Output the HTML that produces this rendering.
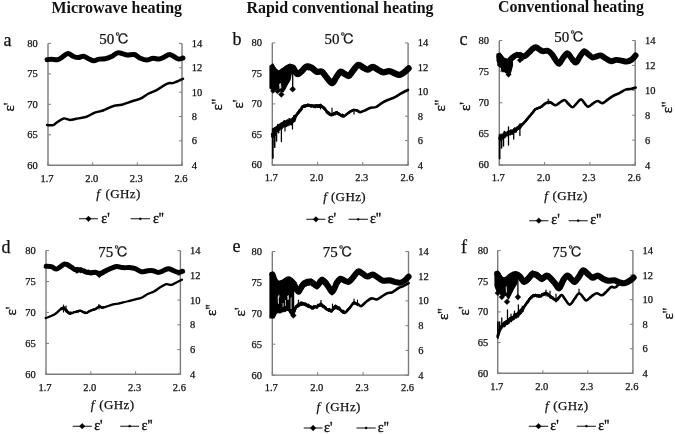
<!DOCTYPE html>
<html lang="en"><head><meta charset="utf-8"><title>Dielectric properties</title>
<style>html,body{margin:0;padding:0;background:#fff}body{width:675px;height:434px;overflow:hidden}svg{display:block}</style>
</head><body>
<svg width="675" height="434" viewBox="0 0 675 434" font-family='"Liberation Serif", "Noto Serif CJK SC", serif' fill="#111" stroke="#111" stroke-width="0.25">
<rect width="675" height="434" fill="#fff" stroke="none"/>
<text x="51.5" y="13.1" font-size="16" font-weight="bold" stroke="none" textLength="130.6" lengthAdjust="spacingAndGlyphs">Microwave heating</text>
<text x="246.4" y="13.1" font-size="16" font-weight="bold" stroke="none" textLength="187.2" lengthAdjust="spacingAndGlyphs">Rapid conventional heating</text>
<text x="497.9" y="11.7" font-size="16" font-weight="bold" stroke="none" textLength="146.0" lengthAdjust="spacingAndGlyphs">Conventional heating</text>
<g>
<path d="M48.0 43.4V165.3H182.0V43.4" fill="none" stroke="#7c7c7c" stroke-width="1.4"/>
<path d="M48.0 43.4h3M48.0 73.9h3M48.0 104.3h3M48.0 134.8h3M48.0 165.3h3M182.0 43.4h-3M182.0 67.8h-3M182.0 92.2h-3M182.0 116.5h-3M182.0 140.9h-3M182.0 165.3h-3M48.0 165.3v-3M92.7 165.3v-3M137.3 165.3v-3M182.0 165.3v-3" fill="none" stroke="#7c7c7c" stroke-width="1"/>
<text x="37.7" y="46.8" font-size="10.5" text-anchor="end">80</text>
<text x="37.7" y="77.3" font-size="10.5" text-anchor="end">75</text>
<text x="37.7" y="107.8" font-size="10.5" text-anchor="end">70</text>
<text x="37.7" y="138.2" font-size="10.5" text-anchor="end">65</text>
<text x="37.7" y="168.7" font-size="10.5" text-anchor="end">60</text>
<text x="191.7" y="46.9" font-size="10.5">14</text>
<text x="191.7" y="71.3" font-size="10.5">12</text>
<text x="191.7" y="95.7" font-size="10.5">10</text>
<text x="191.7" y="120.0" font-size="10.5">8</text>
<text x="191.7" y="144.4" font-size="10.5">6</text>
<text x="191.7" y="168.8" font-size="10.5">4</text>
<text x="47.0" y="181.6" font-size="10.5" text-anchor="middle">1.7</text>
<text x="91.7" y="181.6" font-size="10.5" text-anchor="middle">2.0</text>
<text x="136.3" y="181.6" font-size="10.5" text-anchor="middle">2.3</text>
<text x="181.0" y="181.6" font-size="10.5" text-anchor="middle">2.6</text>
<text x="3.6" y="46.4" font-size="18">a</text>
<text x="99.2" y="43.5" font-size="15">50<tspan dx="1.0" font-size="14" font-family="IPAGothic, 'Noto Serif CJK SC', serif">℃</tspan></text>
<text x="96.2" y="197.8" font-size="13" font-style="italic">f</text>
<text x="140.7" y="197.8" font-size="13" letter-spacing="0.4" text-anchor="end">(GHz)</text>
<path d="M79.0 218.8H97.9M130.6 218.8H150.0" stroke="#111" stroke-width="1.1" fill="none"/>
<path d="M88.5 215.9l2.9 2.9l-2.9 2.9l-2.9-2.9z" fill="#000"/>
<circle cx="140.3" cy="218.8" r="1.15" fill="#000"/>
<text x="101.3" y="222.5" font-size="14" stroke-width="0.4">ε'</text>
<text x="152.9" y="222.5" font-size="14" stroke-width="0.4">ε''</text>
<text transform="translate(14.4 111.6) rotate(-90)" font-size="15" stroke-width="0.4">ε'</text>
<text transform="translate(221.9 110.5) rotate(-90)" font-size="15" stroke-width="0.4">ε''</text>
<path d="M47.1 125.1C48.1 125.1 51.6 125.6 53.3 125.1C55.0 124.5 55.7 123.1 57.4 122.0C59.2 120.8 61.6 118.8 63.7 118.4C65.7 118.1 67.8 119.8 69.9 119.9C72.0 119.9 73.4 119.4 76.1 118.8C78.9 118.3 83.4 117.8 86.5 116.8C89.6 115.7 92.0 113.7 94.8 112.6C97.6 111.6 100.0 111.6 103.1 110.5C106.2 109.4 110.4 106.9 113.5 106.0C116.6 105.0 118.7 105.5 121.8 104.7C124.9 103.9 129.0 102.2 132.1 101.2C135.2 100.2 137.7 100.0 140.4 98.7C143.2 97.4 146.0 95.0 148.7 93.5C151.5 92.0 153.9 91.5 157.0 89.8C160.1 88.1 164.6 84.7 167.4 83.6C170.2 82.4 171.0 83.7 173.6 82.9C176.2 82.2 181.4 79.5 183.0 78.8" fill="none" stroke="#000" stroke-width="2.5" stroke-linejoin="round" stroke-linecap="round"/>
<path d="M47.1 59.7C47.8 59.6 49.5 59.3 51.2 59.3C53.0 59.3 55.7 60.0 57.4 59.7C59.2 59.4 59.9 58.7 61.6 57.6C63.3 56.6 65.9 53.7 67.8 53.5C69.7 53.2 71.3 55.5 73.0 56.2C74.7 56.9 76.5 57.6 78.2 57.6C79.9 57.6 81.7 56.0 83.4 56.2C85.1 56.4 86.8 57.9 88.6 58.7C90.3 59.4 92.0 60.7 93.8 60.7C95.5 60.8 97.0 59.4 98.9 59.1C100.8 58.7 103.1 59.1 105.2 58.7C107.2 58.3 109.3 57.6 111.4 56.6C113.5 55.6 115.5 53.3 117.6 52.9C119.7 52.4 122.1 53.7 123.8 54.1C125.6 54.5 126.3 55.1 128.0 55.1C129.7 55.2 132.1 54.0 134.2 54.5C136.3 55.0 138.4 57.3 140.4 58.3C142.5 59.2 144.6 60.1 146.7 60.1C148.7 60.1 150.8 58.4 152.9 58.3C155.0 58.1 157.2 59.3 159.1 59.1C161.0 58.9 162.6 57.8 164.3 57.0C166.0 56.3 167.8 54.5 169.5 54.5C171.2 54.5 173.1 56.3 174.7 57.0C176.2 57.8 177.4 58.9 178.8 59.1C180.2 59.3 182.3 58.2 183.0 58.0" fill="none" stroke="#000" stroke-width="5.0" stroke-linejoin="round" stroke-linecap="round"/>
</g>
<g>
<path d="M272.3 42.9V165.0H408.1V42.9" fill="none" stroke="#7c7c7c" stroke-width="1.4"/>
<path d="M272.3 42.9h3M272.3 73.4h3M272.3 103.9h3M272.3 134.5h3M272.3 165.0h3M408.1 42.9h-3M408.1 67.3h-3M408.1 91.7h-3M408.1 116.2h-3M408.1 140.6h-3M408.1 165.0h-3M272.3 165.0v-3M317.6 165.0v-3M362.8 165.0v-3M408.1 165.0v-3" fill="none" stroke="#7c7c7c" stroke-width="1"/>
<text x="262.0" y="46.3" font-size="10.5" text-anchor="end">80</text>
<text x="262.0" y="76.8" font-size="10.5" text-anchor="end">75</text>
<text x="262.0" y="107.3" font-size="10.5" text-anchor="end">70</text>
<text x="262.0" y="137.9" font-size="10.5" text-anchor="end">65</text>
<text x="262.0" y="168.4" font-size="10.5" text-anchor="end">60</text>
<text x="417.8" y="46.4" font-size="10.5">14</text>
<text x="417.8" y="70.8" font-size="10.5">12</text>
<text x="417.8" y="95.2" font-size="10.5">10</text>
<text x="417.8" y="119.7" font-size="10.5">8</text>
<text x="417.8" y="144.1" font-size="10.5">6</text>
<text x="417.8" y="168.5" font-size="10.5">4</text>
<text x="271.3" y="181.3" font-size="10.5" text-anchor="middle">1.7</text>
<text x="316.6" y="181.3" font-size="10.5" text-anchor="middle">2.0</text>
<text x="361.8" y="181.3" font-size="10.5" text-anchor="middle">2.3</text>
<text x="407.1" y="181.3" font-size="10.5" text-anchor="middle">2.6</text>
<text x="232.6" y="45.2" font-size="18">b</text>
<text x="324.4" y="43.7" font-size="15">50<tspan dx="1.0" font-size="14" font-family="IPAGothic, 'Noto Serif CJK SC', serif">℃</tspan></text>
<text x="323.2" y="200.5" font-size="13" font-style="italic">f</text>
<text x="366.1" y="200.5" font-size="13" letter-spacing="0.4" text-anchor="end">(GHz)</text>
<path d="M306.3 219.3H325.4M348.5 219.3H367.9" stroke="#111" stroke-width="1.1" fill="none"/>
<path d="M315.9 216.4l2.9 2.9l-2.9 2.9l-2.9-2.9z" fill="#000"/>
<circle cx="358.2" cy="219.3" r="1.15" fill="#000"/>
<text x="327.7" y="223.0" font-size="14" stroke-width="0.4">ε'</text>
<text x="370.1" y="223.0" font-size="14" stroke-width="0.4">ε''</text>
<text transform="translate(242.7 108.6) rotate(-90)" font-size="15" stroke-width="0.4">ε'</text>
<text transform="translate(445.4 111.5) rotate(-90)" font-size="15" stroke-width="0.4">ε''</text>
<path d="M272.0 133.0L272.6 137.3L273.2 132.1L273.8 128.7L274.4 132.4L275.0 134.5L275.6 133.6L276.2 127.0L276.8 130.7L277.4 126.9L278.0 124.6L278.6 133.4" fill="none" stroke="#000" stroke-width="1.8" stroke-linejoin="round"/>
<path d="M272.3 135.7L273.1 132.7L273.9 135.0L274.6 134.6L275.4 128.5L276.2 130.6L277.0 129.1L277.8 126.4L278.5 130.3" fill="none" stroke="#000" stroke-width="2.4" stroke-linejoin="round"/>
<path d="M272.1 137.5L272.7 133.8L273.2 136.4L273.8 133.5L274.3 131.9L274.9 133.0L275.4 134.6L275.9 129.6L276.5 131.2L277.0 127.3L277.6 130.2L278.1 130.8L278.6 127.8" fill="none" stroke="#000" stroke-width="2.1" stroke-linejoin="round"/>
<path d="M279.0 125.4L279.6 130.0L280.2 128.5L280.8 128.2L281.4 122.9L282.0 128.3L282.6 124.6L283.2 122.2L283.8 122.8L284.4 121.1L285.0 125.8L285.6 126.5L286.2 126.0L286.8 124.4L287.4 123.0L288.0 121.7L288.6 123.5L289.2 118.8L289.8 119.0L290.4 122.0L291.0 120.4L291.6 124.7L292.2 122.4L292.8 117.8L293.4 120.8L294.0 115.9L294.6 121.2L295.2 118.4L295.8 118.0" fill="none" stroke="#000" stroke-width="1.8" stroke-linejoin="round"/>
<path d="M279.3 127.1L280.1 124.6L280.9 127.0L281.6 125.9L282.4 124.0L283.2 123.0L284.0 125.8L284.8 123.0L285.5 124.4L286.3 125.0L287.1 123.7L287.9 120.8L288.7 124.0L289.4 124.3L290.2 123.5L291.0 122.4L291.8 119.4L292.6 119.1L293.3 121.5L294.1 117.0L294.9 119.3L295.7 114.9" fill="none" stroke="#000" stroke-width="2.4" stroke-linejoin="round"/>
<path d="M279.1 127.6L279.7 125.6L280.2 127.6L280.8 126.9L281.3 124.1L281.9 124.9L282.4 124.6L282.9 125.3L283.5 126.7L284.0 123.7L284.6 121.1L285.1 126.1L285.6 124.7L286.2 121.3L286.7 123.9L287.3 120.2L287.8 125.5L288.3 121.0L288.9 123.7L289.4 121.3L290.0 122.5L290.5 122.0L291.0 124.3L291.6 121.2L292.1 123.0L292.7 121.0L293.2 119.5L293.7 121.3L294.3 116.4L294.8 115.8L295.4 115.7L295.9 116.0" fill="none" stroke="#000" stroke-width="2.1" stroke-linejoin="round"/>
<path d="M296.0 115.9L296.8 113.7L297.6 112.0L298.4 112.4L299.2 110.1L300.0 110.6L300.8 110.9L301.6 109.4L302.4 106.1L303.2 106.7L304.0 105.6L304.8 106.9L305.6 106.3L306.4 105.5L307.2 105.0L308.0 104.5L308.8 105.9L309.6 104.6L310.4 106.1L311.2 107.1L312.0 105.3L312.8 106.4L313.6 106.7L314.4 106.3L315.2 107.7L316.0 104.6L316.8 105.9L317.6 104.9L318.4 107.0L319.2 106.6L320.0 106.8L320.8 106.5L321.6 105.2L322.4 105.8L323.2 107.3L324.0 109.4L324.8 107.8L325.6 109.0L326.4 112.5L327.2 111.8L328.0 113.5L328.8 114.1L329.6 115.1L330.4 115.2L331.2 115.9L332.0 114.0L332.8 115.7L333.6 115.0L334.4 113.2L335.2 112.3L336.0 111.8L336.8 111.9L337.6 112.8L338.4 112.7L339.2 114.0L340.0 114.2L340.8 115.6L341.6 116.0L342.4 114.5L343.2 114.8L344.0 116.5L344.8 116.1" fill="none" stroke="#000" stroke-width="1.4" stroke-linejoin="round"/>
<path d="M296.3 116.1L297.3 114.2L298.4 113.3L299.4 110.3L300.5 110.6L301.5 109.5L302.5 106.1L303.6 105.6L304.6 107.0L305.7 105.2L306.7 105.9L307.7 104.6L308.8 104.8L309.8 105.0L310.9 106.5L311.9 105.1L312.9 105.9L314.0 107.1L315.0 106.0L316.1 105.2L317.1 107.1L318.1 106.0L319.2 105.0L320.2 105.0L321.3 105.5L322.3 107.2L323.3 106.8L324.4 108.3L325.4 109.9L326.5 111.4L327.5 113.1L328.5 112.6L329.6 113.6L330.6 114.1L331.7 113.9L332.7 114.2L333.7 113.6L334.8 114.2L335.8 113.1L336.9 112.4L337.9 114.3L338.9 114.6L340.0 114.7L341.0 116.0L342.1 116.2L343.1 115.7L344.1 116.9" fill="none" stroke="#000" stroke-width="2.0" stroke-linejoin="round"/>
<path d="M296.1 114.5L296.9 113.6L297.6 113.9L298.3 113.3L299.0 112.2L299.8 111.8L300.5 110.3L301.2 108.8L301.9 109.2L302.6 107.7L303.4 106.7L304.1 105.9L304.8 105.3L305.5 106.8L306.2 106.1L307.0 106.3L307.7 104.4L308.4 105.8L309.1 106.0L309.8 105.1L310.6 105.6L311.3 106.7L312.0 106.1L312.7 106.7L313.4 105.3L314.2 106.9L314.9 105.0L315.6 107.0L316.3 105.4L317.0 105.6L317.8 105.2L318.5 106.8L319.2 107.2L319.9 106.7L320.6 105.3L321.4 106.4L322.1 106.3L322.8 107.7L323.5 107.1L324.2 108.7L325.0 108.4L325.7 110.7L326.4 111.2L327.1 112.6L327.8 112.7L328.6 112.0L329.3 113.1L330.0 113.4L330.7 115.1L331.4 114.8L332.2 113.9L332.9 113.7L333.6 113.6L334.3 112.6L335.0 114.6L335.8 113.8L336.5 113.8L337.2 112.1L337.9 113.0L338.6 112.9L339.4 114.6L340.1 114.5L340.8 115.0L341.5 115.5L342.2 114.4L343.0 115.1L343.7 115.2L344.4 115.4" fill="none" stroke="#000" stroke-width="1.7" stroke-linejoin="round"/>
<path d="M345.0 115.9L346.0 115.2L347.0 113.0L348.0 112.5L349.0 112.2L350.0 112.0L351.0 110.8L352.0 111.3L353.0 110.7L354.0 110.1L355.0 110.3L356.0 110.7L357.0 109.9L358.0 110.4L359.0 110.8L360.0 112.5L361.0 112.2L362.0 111.0" fill="none" stroke="#000" stroke-width="1.0" stroke-linejoin="round"/>
<path d="M345.3 115.7L346.6 113.7L347.9 113.5L349.2 112.8L350.5 111.1L351.8 111.1L353.1 109.6L354.4 109.7L355.7 110.0L357.0 111.0L358.3 111.0L359.6 111.7L360.9 111.9" fill="none" stroke="#000" stroke-width="1.6" stroke-linejoin="round"/>
<path d="M345.1 115.3L346.0 115.0L346.9 114.2L347.8 112.7L348.7 113.0L349.6 111.5L350.5 111.3L351.4 111.1L352.3 110.7L353.2 110.4L354.1 109.8L355.0 109.8L355.9 110.3L356.8 109.9L357.7 111.4L358.6 111.8L359.5 111.4L360.4 112.5L361.3 111.2" fill="none" stroke="#000" stroke-width="1.3" stroke-linejoin="round"/>
<path d="M272.8 129.0V158.0" stroke="#000" stroke-width="1.8" fill="none" stroke-linecap="round"/>
<path d="M274.6 128.0V147.0" stroke="#000" stroke-width="1.8" fill="none" stroke-linecap="round"/>
<path d="M276.5 127.0V141.0" stroke="#000" stroke-width="1.5" fill="none" stroke-linecap="round"/>
<path d="M281.4 126.0V141.5" stroke="#000" stroke-width="1.3" fill="none" stroke-linecap="round"/>
<path d="M285.0 121.0V131.0" stroke="#000" stroke-width="1.2" fill="none" stroke-linecap="round"/>
<path d="M292.5 118.0V129.0" stroke="#000" stroke-width="1.2" fill="none" stroke-linecap="round"/>
<path d="M320.5 104.0V109.0" stroke="#000" stroke-width="1.2" fill="none" stroke-linecap="round"/>
<path d="M332.0 108.0V113.0" stroke="#000" stroke-width="1.2" fill="none" stroke-linecap="round"/>
<path d="M354.0 109.0V114.0" stroke="#000" stroke-width="1.2" fill="none" stroke-linecap="round"/>
<path d="M295.0 67.9l3.0 3.0l-3.0 3.0l-3.0 -3.0zM296.1 69.1l3.0 3.0l-3.0 3.0l-3.0 -3.0zM297.2 69.9l3.0 3.0l-3.0 3.0l-3.0 -3.0zM298.3 70.1l3.0 3.0l-3.0 3.0l-3.0 -3.0zM299.4 69.6l3.0 3.0l-3.0 3.0l-3.0 -3.0zM300.5 69.9l3.0 3.0l-3.0 3.0l-3.0 -3.0zM301.6 67.8l3.0 3.0l-3.0 3.0l-3.0 -3.0zM302.7 67.0l3.0 3.0l-3.0 3.0l-3.0 -3.0zM303.8 65.4l3.0 3.0l-3.0 3.0l-3.0 -3.0zM304.9 65.6l3.0 3.0l-3.0 3.0l-3.0 -3.0zM306.0 64.0l3.0 3.0l-3.0 3.0l-3.0 -3.0zM307.1 63.3l3.0 3.0l-3.0 3.0l-3.0 -3.0zM308.2 64.7l3.0 3.0l-3.0 3.0l-3.0 -3.0zM309.3 64.4l3.0 3.0l-3.0 3.0l-3.0 -3.0zM310.4 65.0l3.0 3.0l-3.0 3.0l-3.0 -3.0zM311.5 64.7l3.0 3.0l-3.0 3.0l-3.0 -3.0z" fill="#000" stroke="none"/>
<path d="M270.0 66.0 L273.0 64.0 L276.0 69.5 L280.0 71.5 L286.0 66.0 L290.0 64.0 L292.0 70.0 L290.0 80.0 L287.0 85.0 L285.0 89.0 L283.0 92.0 L280.0 91.0 L277.0 89.0 L274.0 91.0 L270.0 88.0 z" fill="#000" stroke="#000" stroke-width="1.2" stroke-linejoin="round"/>
<path d="M279.0 84.0 L281.0 83.0 L281.5 88.0 L279.5 89.0 z" fill="#fff" stroke="none" opacity="0.8"/>
<path d="M292.7 70.0V89.0" stroke="#000" stroke-width="1.3" fill="none"/>
<path d="M281.3 91.4l3.0 3.0l-3.0 3.0l-3.0 -3.0z" fill="#000"/>
<path d="M292.7 86.1l3.1 3.1l-3.1 3.1l-3.1 -3.1z" fill="#000"/>
<path d="M273.0 88.4l2.6 2.6l-2.6 2.6l-2.6 -2.6z" fill="#000"/>
<path d="M277.5 88.9l2.6 2.6l-2.6 2.6l-2.6 -2.6z" fill="#000"/>
<path d="M272.1 134.4C272.8 133.9 274.7 132.9 276.3 131.3C277.9 129.8 279.8 126.5 281.5 125.1C283.2 123.7 284.8 123.7 286.7 123.0C288.6 122.3 291.3 122.1 292.9 120.9C294.4 119.7 295.0 117.2 296.0 115.7C297.0 114.2 297.9 113.2 299.1 111.6C300.3 110.0 301.6 107.2 303.3 106.2C305.0 105.2 307.6 105.4 309.5 105.4C311.4 105.4 313.0 106.1 314.7 106.2C316.4 106.3 318.3 105.6 319.9 105.9C321.4 106.2 322.6 106.8 324.0 108.0C325.4 109.2 326.9 112.0 328.1 113.1C329.3 114.2 329.9 114.8 331.3 114.7C332.7 114.7 335.0 112.9 336.4 112.8C337.8 112.7 338.3 113.7 339.5 114.3C340.7 114.9 342.3 116.6 343.7 116.4C345.0 116.2 346.2 114.3 347.8 113.3C349.4 112.2 351.4 110.6 353.0 110.2C354.5 109.7 355.9 110.2 357.1 110.6C358.3 110.9 358.9 112.3 360.2 112.2C361.6 112.2 363.7 110.9 365.4 110.2C367.2 109.4 368.9 108.2 370.6 107.7C372.4 107.2 373.9 107.8 375.8 107.1C377.7 106.3 380.0 104.1 382.0 102.9C384.1 101.7 386.2 100.7 388.3 99.8C390.3 98.9 392.4 98.3 394.5 97.3C396.6 96.3 398.5 94.8 400.7 93.6C403.0 92.3 406.8 90.5 408.0 89.8" fill="none" stroke="#000" stroke-width="2.6" stroke-linejoin="round" stroke-linecap="round"/>
<path d="M273.1 69.7C274.0 70.5 276.7 74.2 278.3 74.5C279.9 74.8 280.7 72.7 282.4 71.6C284.2 70.4 286.9 68.3 288.7 67.6C290.4 67.0 291.4 66.6 292.8 67.6C294.2 68.7 295.6 73.2 297.0 73.9C298.4 74.6 299.6 73.0 301.1 71.8C302.7 70.6 304.6 67.3 306.3 66.6C308.0 65.9 309.8 66.8 311.5 67.6C313.2 68.5 315.0 71.1 316.7 71.8C318.4 72.5 320.1 70.7 321.9 71.8C323.6 72.8 325.3 76.1 327.1 78.0C328.8 79.9 330.7 83.4 332.2 83.2C333.8 83.0 335.0 78.9 336.4 77.0C337.8 75.1 339.2 72.3 340.5 71.8C341.9 71.3 343.3 73.2 344.7 73.9C346.1 74.6 347.5 76.5 348.8 75.9C350.2 75.4 351.4 72.6 353.0 70.7C354.5 68.9 356.4 65.5 358.2 64.9C359.9 64.4 361.8 66.8 363.4 67.6C364.9 68.4 366.0 69.8 367.5 69.7C369.1 69.6 371.0 67.0 372.7 67.0C374.4 67.0 376.2 68.8 377.9 69.7C379.6 70.6 381.2 72.2 383.1 72.4C385.0 72.6 387.4 71.0 389.3 71.2C391.2 71.3 392.8 72.6 394.5 73.2C396.2 73.9 397.9 75.1 399.7 74.9C401.4 74.7 403.4 72.9 404.9 71.8C406.3 70.7 408.0 68.8 408.6 68.3" fill="none" stroke="#000" stroke-width="6.3" stroke-linejoin="round" stroke-linecap="round"/>
</g>
<g>
<path d="M499.3 40.5V165.0H635.2V40.5" fill="none" stroke="#7c7c7c" stroke-width="1.4"/>
<path d="M499.3 40.5h3M499.3 71.6h3M499.3 102.8h3M499.3 133.9h3M499.3 165.0h3M635.2 40.5h-3M635.2 65.4h-3M635.2 90.3h-3M635.2 115.2h-3M635.2 140.1h-3M635.2 165.0h-3M499.3 165.0v-3M544.6 165.0v-3M589.9 165.0v-3M635.2 165.0v-3" fill="none" stroke="#7c7c7c" stroke-width="1"/>
<text x="489.0" y="43.9" font-size="10.5" text-anchor="end">80</text>
<text x="489.0" y="75.0" font-size="10.5" text-anchor="end">75</text>
<text x="489.0" y="106.2" font-size="10.5" text-anchor="end">70</text>
<text x="489.0" y="137.3" font-size="10.5" text-anchor="end">65</text>
<text x="489.0" y="168.4" font-size="10.5" text-anchor="end">60</text>
<text x="644.9" y="44.0" font-size="10.5">14</text>
<text x="644.9" y="68.9" font-size="10.5">12</text>
<text x="644.9" y="93.8" font-size="10.5">10</text>
<text x="644.9" y="118.7" font-size="10.5">8</text>
<text x="644.9" y="143.6" font-size="10.5">6</text>
<text x="644.9" y="168.5" font-size="10.5">4</text>
<text x="498.3" y="181.3" font-size="10.5" text-anchor="middle">1.7</text>
<text x="543.6" y="181.3" font-size="10.5" text-anchor="middle">2.0</text>
<text x="588.9" y="181.3" font-size="10.5" text-anchor="middle">2.3</text>
<text x="634.2" y="181.3" font-size="10.5" text-anchor="middle">2.6</text>
<text x="459.6" y="45.2" font-size="18">c</text>
<text x="554.2" y="42.1" font-size="15">50<tspan dx="1.0" font-size="14" font-family="IPAGothic, 'Noto Serif CJK SC', serif">℃</tspan></text>
<text x="544.2" y="199.7" font-size="13" font-style="italic">f</text>
<text x="587.7" y="199.7" font-size="13" letter-spacing="0.4" text-anchor="end">(GHz)</text>
<path d="M529.2 220.7H548.4M568.6 220.7H587.7" stroke="#111" stroke-width="1.1" fill="none"/>
<path d="M538.8 217.8l2.9 2.9l-2.9 2.9l-2.9-2.9z" fill="#000"/>
<circle cx="578.2" cy="220.7" r="1.15" fill="#000"/>
<text x="551.3" y="224.4" font-size="14" stroke-width="0.4">ε'</text>
<text x="590.3" y="224.4" font-size="14" stroke-width="0.4">ε''</text>
<text transform="translate(470.4 111.0) rotate(-90)" font-size="15" stroke-width="0.4">ε'</text>
<text transform="translate(672.3 113.2) rotate(-90)" font-size="15" stroke-width="0.4">ε''</text>
<path d="M499.5 137.7L500.1 135.8L500.7 135.2L501.3 135.3L501.9 138.5L502.5 134.4L503.1 134.9L503.7 136.7L504.3 135.2L504.9 137.7L505.5 134.1" fill="none" stroke="#000" stroke-width="1.7" stroke-linejoin="round"/>
<path d="M499.8 137.7L500.6 138.2L501.4 135.6L502.1 138.5L502.9 135.3L503.7 134.8L504.5 135.7L505.3 132.5" fill="none" stroke="#000" stroke-width="2.3" stroke-linejoin="round"/>
<path d="M499.6 139.2L500.2 140.0L500.7 136.5L501.3 139.8L501.8 136.9L502.4 138.0L502.9 135.7L503.4 135.0L504.0 133.7L504.5 131.8L505.1 132.6L505.6 137.1" fill="none" stroke="#000" stroke-width="2.0" stroke-linejoin="round"/>
<path d="M506.0 134.2L506.6 133.6L507.2 135.7L507.8 133.9L508.4 135.7L509.0 132.2L509.6 131.3L510.2 134.8L510.8 130.6L511.4 133.7L512.0 132.4L512.6 134.1L513.2 133.6L513.8 131.8L514.4 128.3L515.0 127.9L515.6 130.0L516.2 131.5L516.8 127.3L517.4 128.8L518.0 126.6L518.6 127.2L519.2 125.0L519.8 126.1L520.4 126.5L521.0 124.2L521.6 126.7" fill="none" stroke="#000" stroke-width="1.6" stroke-linejoin="round"/>
<path d="M506.3 132.3L507.1 132.6L507.9 132.5L508.6 132.7L509.4 133.8L510.2 132.0L511.0 133.0L511.8 133.6L512.5 130.3L513.3 132.6L514.1 131.2L514.9 131.4L515.7 130.5L516.4 129.3L517.2 127.8L518.0 127.5L518.8 126.8L519.6 126.0L520.3 125.1L521.1 124.6L521.9 125.1" fill="none" stroke="#000" stroke-width="2.2" stroke-linejoin="round"/>
<path d="M506.1 135.1L506.7 135.1L507.2 135.1L507.8 131.7L508.3 134.6L508.9 131.6L509.4 131.0L509.9 131.7L510.5 132.9L511.0 130.3L511.6 130.9L512.1 131.4L512.6 133.0L513.2 130.9L513.7 130.7L514.2 130.2L514.8 128.7L515.3 131.9L515.9 131.8L516.4 130.7L516.9 129.0L517.5 128.9L518.0 127.9L518.6 128.9L519.1 128.3L519.6 126.3L520.2 128.2L520.7 127.0L521.3 124.3L521.8 126.3" fill="none" stroke="#000" stroke-width="1.9" stroke-linejoin="round"/>
<path d="M522.0 125.1L522.9 123.4L523.8 122.6L524.7 122.5L525.6 120.1L526.5 119.7L527.4 119.7L528.3 117.3L529.2 116.7L530.1 116.5L531.0 115.3L531.9 114.1L532.8 112.5L533.7 112.2L534.6 109.8L535.5 110.0L536.4 108.7L537.3 108.9L538.2 108.4L539.1 107.4L540.0 107.8L540.9 107.2L541.8 107.2L542.7 105.9L543.6 104.7L544.5 103.9L545.4 104.2L546.3 102.6L547.2 103.1L548.1 102.9L549.0 103.2L549.9 101.4L550.8 102.9L551.7 102.5" fill="none" stroke="#000" stroke-width="1.1" stroke-linejoin="round"/>
<path d="M522.3 124.7L523.5 123.5L524.6 122.4L525.8 121.2L527.0 118.9L528.1 118.4L529.3 116.3L530.5 115.0L531.7 113.2L532.8 112.4L534.0 110.3L535.2 109.3L536.3 109.2L537.5 108.8L538.7 107.5L539.8 107.9L541.0 106.8L542.2 105.5L543.4 105.4L544.5 104.4L545.7 103.1L546.9 102.9L548.0 102.7L549.2 102.4L550.4 102.7L551.5 103.4" fill="none" stroke="#000" stroke-width="1.7" stroke-linejoin="round"/>
<path d="M522.1 124.1L523.0 123.0L523.8 122.3L524.6 121.8L525.4 121.3L526.2 121.0L527.0 119.1L527.8 118.1L528.6 117.5L529.4 117.2L530.2 115.6L531.1 114.2L531.9 114.0L532.7 113.4L533.5 112.1L534.3 110.4L535.1 109.1L535.9 109.0L536.7 108.1L537.5 107.8L538.3 108.0L539.2 108.4L540.0 107.8L540.8 106.9L541.6 107.2L542.4 105.2L543.2 104.7L544.0 104.1L544.8 104.0L545.6 103.8L546.4 102.7L547.3 103.3L548.1 103.3L548.9 102.3L549.7 102.8L550.5 103.1L551.3 102.9" fill="none" stroke="#000" stroke-width="1.4" stroke-linejoin="round"/>
<path d="M499.6 135.0V158.5" stroke="#000" stroke-width="1.8" fill="none" stroke-linecap="round"/>
<path d="M501.5 136.0V148.0" stroke="#000" stroke-width="1.6" fill="none" stroke-linecap="round"/>
<path d="M503.5 134.0V146.0" stroke="#000" stroke-width="1.4" fill="none" stroke-linecap="round"/>
<path d="M508.5 127.0V145.0" stroke="#000" stroke-width="1.3" fill="none" stroke-linecap="round"/>
<path d="M513.7 129.0V139.0" stroke="#000" stroke-width="1.3" fill="none" stroke-linecap="round"/>
<path d="M519.9 124.0V135.5" stroke="#000" stroke-width="1.3" fill="none" stroke-linecap="round"/>
<path d="M548.2 99.0V104.0" stroke="#000" stroke-width="1.2" fill="none" stroke-linecap="round"/>
<path d="M512.0 54.6l2.9 2.9l-2.9 2.9l-2.9 -2.9zM513.2 53.6l2.9 2.9l-2.9 2.9l-2.9 -2.9zM514.4 53.0l2.9 2.9l-2.9 2.9l-2.9 -2.9zM515.6 52.5l2.9 2.9l-2.9 2.9l-2.9 -2.9zM516.8 51.5l2.9 2.9l-2.9 2.9l-2.9 -2.9zM518.0 51.9l2.9 2.9l-2.9 2.9l-2.9 -2.9zM519.2 52.1l2.9 2.9l-2.9 2.9l-2.9 -2.9zM520.4 52.0l2.9 2.9l-2.9 2.9l-2.9 -2.9zM521.6 53.1l2.9 2.9l-2.9 2.9l-2.9 -2.9zM522.8 53.2l2.9 2.9l-2.9 2.9l-2.9 -2.9zM524.0 53.5l2.9 2.9l-2.9 2.9l-2.9 -2.9zM525.2 52.8l2.9 2.9l-2.9 2.9l-2.9 -2.9zM526.4 51.8l2.9 2.9l-2.9 2.9l-2.9 -2.9zM527.6 50.6l2.9 2.9l-2.9 2.9l-2.9 -2.9zM528.8 49.1l2.9 2.9l-2.9 2.9l-2.9 -2.9zM530.0 48.7l2.9 2.9l-2.9 2.9l-2.9 -2.9zM531.2 46.5l2.9 2.9l-2.9 2.9l-2.9 -2.9z" fill="#000" stroke="none"/>
<path d="M497.0 54.0 L500.0 53.0 L504.0 58.0 L509.0 60.0 L512.0 58.0 L512.5 65.0 L511.0 71.0 L509.5 75.0 L506.5 73.0 L503.5 71.0 L500.5 67.0 L498.0 64.0 L497.0 60.0 z" fill="#000" stroke="#000" stroke-width="1.2" stroke-linejoin="round"/>
<path d="M508.5 71.8l2.8 2.8l-2.8 2.8l-2.8 -2.8z" fill="#000"/>
<path d="M503.0 67.5l2.5 2.5l-2.5 2.5l-2.5 -2.5z" fill="#000"/>
<path d="M499.5 62.5l2.5 2.5l-2.5 2.5l-2.5 -2.5z" fill="#000"/>
<path d="M519.9 57.5l2.8 2.8l-2.8 2.8l-2.8 -2.8z" fill="#000"/>
<path d="M522.0 56.0l2.6 2.6l-2.6 2.6l-2.6 -2.6z" fill="#000"/>
<path d="M499.5 138.4C500.5 137.7 503.3 135.2 505.3 134.2C507.3 133.2 509.4 133.0 511.5 132.1C513.6 131.3 515.7 130.6 517.7 129.0C519.8 127.5 521.9 125.0 524.0 122.8C526.0 120.6 528.3 117.8 530.2 115.5C532.1 113.3 533.7 110.7 535.4 109.3C537.1 107.9 538.8 108.3 540.6 107.2C542.3 106.2 544.2 104.0 545.8 103.1C547.3 102.2 548.3 101.7 549.9 102.1C551.5 102.4 553.5 105.0 555.1 105.2C556.6 105.3 557.7 104.0 559.2 103.1C560.8 102.2 562.9 99.8 564.4 100.0C566.0 100.2 567.2 102.9 568.6 104.1C570.0 105.3 571.3 107.4 572.7 107.2C574.1 107.1 575.5 104.4 576.9 103.1C578.3 101.8 579.6 99.2 581.0 99.4C582.4 99.5 584.0 102.9 585.2 104.1C586.4 105.3 586.9 106.8 588.3 106.6C589.7 106.4 591.9 104.0 593.5 103.1C595.0 102.2 596.1 101.0 597.6 101.0C599.2 101.0 601.1 103.4 602.8 103.1C604.5 102.8 606.3 100.6 608.0 99.4C609.7 98.1 611.3 96.9 613.2 95.8C615.1 94.8 617.3 94.2 619.4 93.1C621.5 92.1 623.7 90.3 625.6 89.6C627.5 88.9 629.2 89.3 630.8 89.0C632.5 88.6 634.8 87.8 635.6 87.5" fill="none" stroke="#000" stroke-width="2.6" stroke-linejoin="round" stroke-linecap="round"/>
<path d="M499.5 56.4C500.1 57.3 501.9 60.6 503.2 61.6C504.5 62.6 506.0 63.2 507.4 62.6C508.8 62.1 510.1 59.7 511.5 58.5C512.9 57.3 514.3 56.0 515.7 55.4C517.1 54.8 518.4 54.8 519.8 55.0C521.2 55.1 522.6 56.7 524.0 56.4C525.4 56.1 526.7 54.5 528.1 53.3C529.5 52.1 531.1 50.2 532.3 49.1C533.5 48.1 534.3 47.1 535.4 47.1C536.4 47.0 537.3 48.0 538.5 48.7C539.7 49.4 541.1 50.9 542.6 51.2C544.2 51.6 546.3 50.3 547.8 50.8C549.4 51.3 550.6 52.7 552.0 54.3C553.4 56.0 554.9 59.0 556.1 60.6C557.3 62.1 558.0 64.2 559.2 63.7C560.5 63.2 562.0 59.2 563.4 57.4C564.8 55.7 566.2 53.1 567.5 53.3C568.9 53.5 570.3 56.9 571.7 58.5C573.1 60.0 574.5 63.0 575.8 62.6C577.2 62.3 578.6 58.3 580.0 56.4C581.4 54.5 582.8 51.6 584.1 51.2C585.5 50.9 586.9 53.3 588.3 54.3C589.7 55.4 591.1 57.1 592.4 57.4C593.8 57.8 595.2 56.8 596.6 56.4C598.0 56.1 599.2 55.0 600.7 55.4C602.3 55.7 604.2 57.5 605.9 58.5C607.7 59.5 609.4 60.9 611.1 61.2C612.8 61.4 614.6 60.0 616.3 59.9C618.0 59.8 619.8 60.3 621.5 60.6C623.2 60.8 624.9 61.8 626.7 61.6C628.4 61.4 630.4 60.6 631.9 59.5C633.3 58.5 635.0 56.1 635.6 55.4" fill="none" stroke="#000" stroke-width="5.9" stroke-linejoin="round" stroke-linecap="round"/>
</g>
<g>
<path d="M46.0 250.6V374.3H180.4V250.6" fill="none" stroke="#7c7c7c" stroke-width="1.4"/>
<path d="M46.0 250.6h3M46.0 281.5h3M46.0 312.4h3M46.0 343.4h3M46.0 374.3h3M180.4 250.6h-3M180.4 275.3h-3M180.4 300.1h-3M180.4 324.8h-3M180.4 349.6h-3M180.4 374.3h-3M46.0 374.3v-3M90.8 374.3v-3M135.6 374.3v-3M180.4 374.3v-3" fill="none" stroke="#7c7c7c" stroke-width="1"/>
<text x="35.7" y="254.0" font-size="10.5" text-anchor="end">80</text>
<text x="35.7" y="284.9" font-size="10.5" text-anchor="end">75</text>
<text x="35.7" y="315.8" font-size="10.5" text-anchor="end">70</text>
<text x="35.7" y="346.8" font-size="10.5" text-anchor="end">65</text>
<text x="35.7" y="377.7" font-size="10.5" text-anchor="end">60</text>
<text x="190.1" y="254.1" font-size="10.5">14</text>
<text x="190.1" y="278.8" font-size="10.5">12</text>
<text x="190.1" y="303.6" font-size="10.5">10</text>
<text x="190.1" y="328.3" font-size="10.5">8</text>
<text x="190.1" y="353.1" font-size="10.5">6</text>
<text x="190.1" y="377.8" font-size="10.5">4</text>
<text x="45.0" y="390.6" font-size="10.5" text-anchor="middle">1.7</text>
<text x="89.8" y="390.6" font-size="10.5" text-anchor="middle">2.0</text>
<text x="134.6" y="390.6" font-size="10.5" text-anchor="middle">2.3</text>
<text x="179.4" y="390.6" font-size="10.5" text-anchor="middle">2.6</text>
<text x="1.6" y="253.4" font-size="18">d</text>
<text x="98.2" y="256.7" font-size="15">75<tspan dx="1.0" font-size="14" font-family="IPAGothic, 'Noto Serif CJK SC', serif">℃</tspan></text>
<text x="90.8" y="409.1" font-size="13" font-style="italic">f</text>
<text x="134.5" y="409.1" font-size="13" letter-spacing="0.4" text-anchor="end">(GHz)</text>
<path d="M72.7 426.2H91.8M120.2 426.2H139.2" stroke="#111" stroke-width="1.1" fill="none"/>
<path d="M82.2 423.3l2.9 2.9l-2.9 2.9l-2.9-2.9z" fill="#000"/>
<circle cx="129.7" cy="426.2" r="1.15" fill="#000"/>
<text x="94.2" y="429.9" font-size="14" stroke-width="0.4">ε'</text>
<text x="141.6" y="429.9" font-size="14" stroke-width="0.4">ε''</text>
<text transform="translate(16.4 315.6) rotate(-90)" font-size="15" stroke-width="0.4">ε'</text>
<text transform="translate(216.2 315.9) rotate(-90)" font-size="15" stroke-width="0.4">ε''</text>
<path d="M60.0 308.6L60.7 309.0L61.4 309.4L62.1 309.0L62.8 308.8L63.5 307.6L64.2 309.0L64.9 309.0L65.6 308.3L66.3 310.3L67.0 309.7L67.7 313.1L68.4 313.8L69.1 312.4L69.8 312.9L70.5 314.3L71.2 312.3L71.9 312.0" fill="none" stroke="#000" stroke-width="1.1" stroke-linejoin="round"/>
<path d="M60.3 308.8L61.2 308.3L62.1 308.6L63.0 309.0L63.9 307.1L64.8 309.8L65.8 310.0L66.7 311.7L67.6 312.3L68.5 311.6L69.4 313.5L70.3 312.6L71.2 312.1" fill="none" stroke="#000" stroke-width="1.7" stroke-linejoin="round"/>
<path d="M60.1 309.3L60.8 309.8L61.4 308.7L62.0 307.5L62.7 309.1L63.3 309.0L63.9 307.0L64.6 308.3L65.2 309.6L65.8 311.0L66.5 309.6L67.1 311.3L67.7 313.0L68.3 312.6L69.0 313.4L69.6 314.1L70.2 313.5L70.9 312.7L71.5 313.4" fill="none" stroke="#000" stroke-width="1.4" stroke-linejoin="round"/>
<path d="M72.0 313.0L72.9 312.4L73.8 313.0L74.7 311.9L75.6 311.8L76.5 312.1L77.4 312.0L78.3 311.9L79.2 311.2L80.1 310.3L81.0 311.6L81.9 312.1L82.8 312.2L83.7 312.7L84.6 312.6L85.5 313.0L86.4 312.8L87.3 311.6L88.2 312.1L89.1 312.1L90.0 310.4L90.9 311.1L91.8 310.7L92.7 309.3L93.6 308.9L94.5 309.5L95.4 308.5L96.3 308.2L97.2 308.1L98.1 307.5L99.0 307.0L99.9 306.7L100.8 306.6L101.7 306.4L102.6 306.9L103.5 306.9L104.4 307.2" fill="none" stroke="#000" stroke-width="1.0" stroke-linejoin="round"/>
<path d="M72.3 313.1L73.5 312.1L74.6 312.0L75.8 312.4L77.0 311.4L78.2 311.5L79.3 311.1L80.5 311.0L81.7 311.3L82.8 311.9L84.0 312.6L85.2 312.4L86.3 313.0L87.5 312.6L88.7 311.0L89.9 310.7L91.0 310.3L92.2 309.7L93.4 309.3L94.5 309.5L95.7 308.5L96.9 307.6L98.0 307.8L99.2 306.2L100.4 306.8L101.6 307.2L102.7 307.5L103.9 307.3" fill="none" stroke="#000" stroke-width="1.6" stroke-linejoin="round"/>
<path d="M72.2 312.4L73.0 312.8L73.8 312.0L74.6 311.6L75.4 311.5L76.2 311.6L77.0 312.2L77.8 311.5L78.6 311.9L79.4 310.8L80.3 310.3L81.1 311.4L81.9 310.9L82.7 312.5L83.5 311.9L84.3 312.1L85.1 312.5L85.9 312.5L86.7 313.1L87.5 312.9L88.4 311.8L89.2 311.0L90.0 310.3L90.8 310.0L91.6 310.1L92.4 310.3L93.2 310.0L94.0 310.1L94.8 309.7L95.6 308.7L96.5 308.7L97.3 307.7L98.1 307.6L98.9 306.1L99.7 307.2L100.5 306.0L101.3 307.3L102.1 307.2L102.9 308.1L103.7 306.8L104.6 307.7" fill="none" stroke="#000" stroke-width="1.3" stroke-linejoin="round"/>
<path d="M63.5 305.0V312.0" stroke="#000" stroke-width="1.2" fill="none" stroke-linecap="round"/>
<path d="M66.0 306.0V312.0" stroke="#000" stroke-width="1.2" fill="none" stroke-linecap="round"/>
<path d="M99.0 304.5V309.0" stroke="#000" stroke-width="1.2" fill="none" stroke-linecap="round"/>
<path d="M68.0 262.1l2.3 2.3l-2.3 2.3l-2.3 -2.3zM69.2 264.1l2.3 2.3l-2.3 2.3l-2.3 -2.3zM70.4 264.6l2.3 2.3l-2.3 2.3l-2.3 -2.3zM71.6 265.0l2.3 2.3l-2.3 2.3l-2.3 -2.3zM72.8 265.2l2.3 2.3l-2.3 2.3l-2.3 -2.3zM74.0 266.4l2.3 2.3l-2.3 2.3l-2.3 -2.3zM75.2 267.3l2.3 2.3l-2.3 2.3l-2.3 -2.3zM76.4 266.8l2.3 2.3l-2.3 2.3l-2.3 -2.3zM77.6 266.7l2.3 2.3l-2.3 2.3l-2.3 -2.3zM78.8 268.1l2.3 2.3l-2.3 2.3l-2.3 -2.3zM80.0 267.5l2.3 2.3l-2.3 2.3l-2.3 -2.3zM81.2 267.3l2.3 2.3l-2.3 2.3l-2.3 -2.3zM82.4 268.5l2.3 2.3l-2.3 2.3l-2.3 -2.3zM83.6 269.0l2.3 2.3l-2.3 2.3l-2.3 -2.3zM84.8 268.5l2.3 2.3l-2.3 2.3l-2.3 -2.3zM86.0 269.8l2.3 2.3l-2.3 2.3l-2.3 -2.3zM87.2 270.0l2.3 2.3l-2.3 2.3l-2.3 -2.3zM88.4 269.3l2.3 2.3l-2.3 2.3l-2.3 -2.3zM89.6 269.9l2.3 2.3l-2.3 2.3l-2.3 -2.3zM90.8 271.2l2.3 2.3l-2.3 2.3l-2.3 -2.3zM92.0 270.6l2.3 2.3l-2.3 2.3l-2.3 -2.3zM93.2 269.8l2.3 2.3l-2.3 2.3l-2.3 -2.3zM94.4 270.0l2.3 2.3l-2.3 2.3l-2.3 -2.3zM95.6 270.0l2.3 2.3l-2.3 2.3l-2.3 -2.3zM96.8 270.8l2.3 2.3l-2.3 2.3l-2.3 -2.3zM98.0 271.6l2.3 2.3l-2.3 2.3l-2.3 -2.3zM99.2 270.4l2.3 2.3l-2.3 2.3l-2.3 -2.3zM100.4 270.5l2.3 2.3l-2.3 2.3l-2.3 -2.3zM101.6 270.6l2.3 2.3l-2.3 2.3l-2.3 -2.3zM102.8 269.2l2.3 2.3l-2.3 2.3l-2.3 -2.3zM104.0 268.8l2.3 2.3l-2.3 2.3l-2.3 -2.3zM105.2 268.1l2.3 2.3l-2.3 2.3l-2.3 -2.3zM106.4 267.5l2.3 2.3l-2.3 2.3l-2.3 -2.3zM107.6 268.0l2.3 2.3l-2.3 2.3l-2.3 -2.3z" fill="#000" stroke="none"/>
<path d="M77.0 268.9l2.4 2.4l-2.4 2.4l-2.4 -2.4z" fill="#000"/>
<path d="M80.5 268.4l2.4 2.4l-2.4 2.4l-2.4 -2.4z" fill="#000"/>
<path d="M99.3 272.7l2.6 2.6l-2.6 2.6l-2.6 -2.6z" fill="#000"/>
<path d="M45.7 318.1C47.2 317.5 51.8 316.2 54.4 314.6C57.0 313.0 59.7 309.8 61.3 308.6C62.9 307.5 63.0 307.4 63.9 307.7C64.8 308.0 65.5 309.7 66.5 310.7C67.5 311.7 68.5 313.4 69.9 313.6C71.3 313.8 73.4 312.5 75.1 312.0C76.8 311.5 78.6 310.5 80.3 310.7C82.0 310.9 83.8 313.0 85.5 313.0C87.2 313.0 89.0 311.4 90.7 310.7C92.4 310.0 94.4 309.6 95.8 308.9C97.2 308.2 98.1 306.5 99.3 306.3C100.5 306.1 100.5 308.0 102.8 307.7C105.1 307.4 110.5 305.0 113.1 304.3C115.7 303.6 116.4 304.0 118.7 303.5C121.0 303.1 124.2 302.1 127.0 301.5C129.8 300.8 132.9 300.0 135.3 299.4C137.7 298.8 139.4 298.6 141.5 297.7C143.6 296.8 145.7 295.0 147.7 294.0C149.8 292.9 151.9 292.6 154.0 291.5C156.0 290.4 158.1 288.6 160.2 287.3C162.3 286.1 164.5 284.6 166.4 284.2C168.3 283.8 169.9 285.2 171.6 284.9C173.3 284.5 175.1 283.0 176.8 282.2C178.5 281.3 181.1 280.1 182.0 279.7" fill="none" stroke="#000" stroke-width="2.3" stroke-linejoin="round" stroke-linecap="round"/>
<path d="M46.1 266.2C46.9 266.3 49.5 266.1 51.3 266.6C53.0 267.1 54.9 269.1 56.4 269.1C58.0 269.1 59.2 267.4 60.6 266.6C62.0 265.8 63.2 264.2 64.7 264.1C66.3 264.0 68.2 265.2 69.9 266.2C71.7 267.1 73.4 269.1 75.1 269.7C76.8 270.3 78.6 269.4 80.3 269.7C82.0 270.1 83.8 271.3 85.5 271.8C87.2 272.3 89.0 272.7 90.7 272.8C92.4 272.9 94.3 272.2 95.9 272.4C97.4 272.6 98.5 274.1 100.0 273.9C101.6 273.7 103.5 272.0 105.2 271.2C106.9 270.3 108.5 269.4 110.4 268.7C112.3 267.9 114.5 266.8 116.6 266.6C118.7 266.4 120.8 267.5 122.8 267.6C124.9 267.8 127.0 267.5 129.1 267.6C131.1 267.8 133.2 268.0 135.3 268.7C137.4 269.4 139.4 271.4 141.5 271.8C143.6 272.1 145.8 270.9 147.7 270.7C149.6 270.6 151.2 270.5 152.9 270.7C154.7 271.0 156.4 272.4 158.1 272.4C159.8 272.4 161.6 271.4 163.3 270.7C165.0 270.1 166.8 268.7 168.5 268.7C170.2 268.7 171.9 270.1 173.7 270.7C175.4 271.4 177.4 272.3 178.9 272.4C180.3 272.5 182.0 271.4 182.6 271.2" fill="none" stroke="#000" stroke-width="5.0" stroke-linejoin="round" stroke-linecap="round"/>
</g>
<g>
<path d="M272.3 251.5V375.1H408.5V251.5" fill="none" stroke="#7c7c7c" stroke-width="1.4"/>
<path d="M272.3 251.5h3M272.3 282.4h3M272.3 313.3h3M272.3 344.2h3M272.3 375.1h3M408.5 251.5h-3M408.5 276.2h-3M408.5 300.9h-3M408.5 325.7h-3M408.5 350.4h-3M408.5 375.1h-3M272.3 375.1v-3M317.7 375.1v-3M363.1 375.1v-3M408.5 375.1v-3" fill="none" stroke="#7c7c7c" stroke-width="1"/>
<text x="262.0" y="254.9" font-size="10.5" text-anchor="end">80</text>
<text x="262.0" y="285.8" font-size="10.5" text-anchor="end">75</text>
<text x="262.0" y="316.7" font-size="10.5" text-anchor="end">70</text>
<text x="262.0" y="347.6" font-size="10.5" text-anchor="end">65</text>
<text x="262.0" y="378.5" font-size="10.5" text-anchor="end">60</text>
<text x="418.2" y="255.0" font-size="10.5">14</text>
<text x="418.2" y="279.7" font-size="10.5">12</text>
<text x="418.2" y="304.4" font-size="10.5">10</text>
<text x="418.2" y="329.2" font-size="10.5">8</text>
<text x="418.2" y="353.9" font-size="10.5">6</text>
<text x="418.2" y="378.6" font-size="10.5">4</text>
<text x="271.3" y="391.4" font-size="10.5" text-anchor="middle">1.7</text>
<text x="316.7" y="391.4" font-size="10.5" text-anchor="middle">2.0</text>
<text x="362.1" y="391.4" font-size="10.5" text-anchor="middle">2.3</text>
<text x="407.5" y="391.4" font-size="10.5" text-anchor="middle">2.6</text>
<text x="232.6" y="252.2" font-size="18">e</text>
<text x="322.8" y="257.1" font-size="15">75<tspan dx="1.0" font-size="14" font-family="IPAGothic, 'Noto Serif CJK SC', serif">℃</tspan></text>
<text x="316.6" y="410.5" font-size="13" font-style="italic">f</text>
<text x="360.8" y="410.5" font-size="13" letter-spacing="0.4" text-anchor="end">(GHz)</text>
<path d="M303.7 428.0H322.6M356.5 428.0H375.7" stroke="#111" stroke-width="1.1" fill="none"/>
<path d="M313.1 425.1l2.9 2.9l-2.9 2.9l-2.9-2.9z" fill="#000"/>
<circle cx="366.1" cy="428.0" r="1.15" fill="#000"/>
<text x="324.1" y="431.7" font-size="14" stroke-width="0.4">ε'</text>
<text x="377.8" y="431.7" font-size="14" stroke-width="0.4">ε''</text>
<text transform="translate(245.4 316.4) rotate(-90)" font-size="15" stroke-width="0.4">ε'</text>
<text transform="translate(448.0 320.1) rotate(-90)" font-size="15" stroke-width="0.4">ε''</text>
<path d="M294.0 312.1L294.7 308.9L295.4 309.7L296.1 308.0L296.8 306.0L297.5 306.3L298.2 304.4L298.9 304.0L299.6 303.8L300.3 304.7L301.0 302.7L301.7 305.3L302.4 302.4L303.1 302.9L303.8 302.7L304.5 305.2L305.2 303.9L305.9 304.4L306.6 304.2L307.3 305.7L308.0 305.3L308.7 305.0L309.4 306.2L310.1 306.2L310.8 306.0L311.5 308.8L312.2 308.2L312.9 308.0L313.6 308.6L314.3 306.8L315.0 306.6L315.7 306.6L316.4 306.4L317.1 307.0L317.8 304.4L318.5 305.6L319.2 305.5L319.9 304.5L320.6 303.1L321.3 305.7L322.0 303.9L322.7 306.3L323.4 305.5L324.1 305.6L324.8 306.7L325.5 306.9L326.2 307.6L326.9 309.7L327.6 310.2L328.3 309.2L329.0 310.5L329.7 310.1L330.4 310.5L331.1 312.1L331.8 309.6L332.5 310.8L333.2 309.5L333.9 308.8L334.6 305.8L335.3 305.3L336.0 305.4L336.7 306.8L337.4 309.2L338.1 309.3L338.8 309.6L339.5 307.5L340.2 310.0L340.9 310.8L341.6 311.5L342.3 312.0L343.0 310.3L343.7 311.0L344.4 313.7" fill="none" stroke="#000" stroke-width="1.5" stroke-linejoin="round"/>
<path d="M294.3 311.6L295.2 309.5L296.1 306.4L297.0 306.9L297.9 304.6L298.9 306.0L299.8 305.3L300.7 303.5L301.6 302.6L302.5 304.0L303.4 304.5L304.3 303.9L305.2 303.3L306.1 304.0L307.0 305.8L308.0 304.6L308.9 307.2L309.8 306.1L310.7 306.5L311.6 306.8L312.5 308.7L313.4 308.3L314.3 306.7L315.2 306.0L316.1 307.2L317.1 307.4L318.0 304.9L318.9 305.9L319.8 306.0L320.7 304.6L321.6 305.4L322.5 306.7L323.4 306.1L324.3 306.9L325.2 308.5L326.2 308.9L327.1 309.3L328.0 309.1L328.9 310.9L329.8 309.8L330.7 311.1L331.6 311.4L332.5 309.3L333.4 307.5L334.3 307.0L335.3 305.8L336.2 306.2L337.1 306.6L338.0 307.6L338.9 308.1L339.8 308.9L340.7 310.1L341.6 310.9L342.5 311.6L343.4 311.6L344.4 313.0" fill="none" stroke="#000" stroke-width="2.1" stroke-linejoin="round"/>
<path d="M294.1 311.6L294.8 308.7L295.4 308.2L296.0 306.1L296.7 306.7L297.3 306.5L297.9 304.7L298.6 304.9L299.2 304.6L299.8 303.8L300.4 302.6L301.1 302.3L301.7 305.1L302.3 304.5L303.0 303.8L303.6 304.5L304.2 303.5L304.9 304.9L305.5 305.7L306.1 305.4L306.7 304.8L307.4 306.6L308.0 306.8L308.6 304.7L309.3 306.1L309.9 306.6L310.5 306.5L311.2 307.9L311.8 306.6L312.4 308.2L313.0 308.4L313.7 306.0L314.3 307.7L314.9 306.4L315.6 307.3L316.2 307.3L316.8 308.0L317.5 307.2L318.1 305.5L318.7 306.3L319.3 304.3L320.0 305.6L320.6 304.5L321.2 304.3L321.9 304.7L322.5 305.1L323.1 307.3L323.8 305.8L324.4 306.7L325.0 307.1L325.6 307.5L326.3 309.5L326.9 309.4L327.5 309.8L328.2 310.8L328.8 309.7L329.4 308.8L330.1 309.5L330.7 310.7L331.3 311.3L331.9 311.3L332.6 309.5L333.2 308.0L333.8 308.5L334.5 308.8L335.1 306.5L335.7 308.1L336.4 308.4L337.0 307.7L337.6 307.8L338.2 307.1L338.9 307.3L339.5 307.4L340.1 309.6L340.8 310.4L341.4 311.7L342.0 311.1L342.7 312.7L343.3 311.5L343.9 311.2L344.5 311.5" fill="none" stroke="#000" stroke-width="1.8" stroke-linejoin="round"/>
<path d="M345.0 312.2L346.0 311.6L347.0 311.5L348.0 309.2L349.0 308.1L350.0 308.0L351.0 306.1L352.0 305.2L353.0 303.2L354.0 303.2L355.0 303.8L356.0 304.0L357.0 304.8L358.0 304.2L359.0 304.1L360.0 305.1" fill="none" stroke="#000" stroke-width="1.1" stroke-linejoin="round"/>
<path d="M345.3 312.8L346.6 311.0L347.9 309.3L349.2 308.0L350.5 306.5L351.8 305.2L353.1 304.2L354.4 303.2L355.7 303.7L357.0 304.3L358.3 304.3L359.6 305.6" fill="none" stroke="#000" stroke-width="1.7" stroke-linejoin="round"/>
<path d="M345.1 312.0L346.0 311.6L346.9 309.9L347.8 310.3L348.7 308.3L349.6 308.1L350.5 307.1L351.4 306.0L352.3 304.9L353.2 303.3L354.1 303.0L355.0 303.7L355.9 303.7L356.8 304.7L357.7 304.9L358.6 304.1L359.5 305.5" fill="none" stroke="#000" stroke-width="1.4" stroke-linejoin="round"/>
<path d="M298.5 300.0V307.0" stroke="#000" stroke-width="1.2" fill="none" stroke-linecap="round"/>
<path d="M321.0 300.5V306.0" stroke="#000" stroke-width="1.2" fill="none" stroke-linecap="round"/>
<path d="M332.5 304.0V311.0" stroke="#000" stroke-width="1.2" fill="none" stroke-linecap="round"/>
<path d="M354.0 299.0V304.5" stroke="#000" stroke-width="1.2" fill="none" stroke-linecap="round"/>
<path d="M357.5 300.0V305.0" stroke="#000" stroke-width="1.1" fill="none" stroke-linecap="round"/>
<path d="M294.0 279.9l3.1 3.1l-3.1 3.1l-3.1 -3.1zM295.0 283.4l3.1 3.1l-3.1 3.1l-3.1 -3.1zM296.0 284.4l3.1 3.1l-3.1 3.1l-3.1 -3.1zM297.0 287.6l3.1 3.1l-3.1 3.1l-3.1 -3.1zM298.0 287.0l3.1 3.1l-3.1 3.1l-3.1 -3.1zM299.0 288.6l3.1 3.1l-3.1 3.1l-3.1 -3.1zM300.0 284.7l3.1 3.1l-3.1 3.1l-3.1 -3.1zM301.0 283.6l3.1 3.1l-3.1 3.1l-3.1 -3.1zM302.0 281.9l3.1 3.1l-3.1 3.1l-3.1 -3.1zM303.0 280.7l3.1 3.1l-3.1 3.1l-3.1 -3.1zM304.0 281.8l3.1 3.1l-3.1 3.1l-3.1 -3.1zM305.0 280.8l3.1 3.1l-3.1 3.1l-3.1 -3.1zM306.0 280.9l3.1 3.1l-3.1 3.1l-3.1 -3.1zM307.0 278.5l3.1 3.1l-3.1 3.1l-3.1 -3.1zM308.0 279.9l3.1 3.1l-3.1 3.1l-3.1 -3.1zM309.0 280.0l3.1 3.1l-3.1 3.1l-3.1 -3.1zM310.0 279.6l3.1 3.1l-3.1 3.1l-3.1 -3.1zM311.0 278.1l3.1 3.1l-3.1 3.1l-3.1 -3.1zM312.0 280.5l3.1 3.1l-3.1 3.1l-3.1 -3.1zM313.0 280.6l3.1 3.1l-3.1 3.1l-3.1 -3.1zM314.0 281.4l3.1 3.1l-3.1 3.1l-3.1 -3.1zM315.0 281.1l3.1 3.1l-3.1 3.1l-3.1 -3.1zM316.0 282.3l3.1 3.1l-3.1 3.1l-3.1 -3.1zM317.0 283.6l3.1 3.1l-3.1 3.1l-3.1 -3.1zM318.0 281.6l3.1 3.1l-3.1 3.1l-3.1 -3.1zM319.0 280.3l3.1 3.1l-3.1 3.1l-3.1 -3.1zM320.0 280.3l3.1 3.1l-3.1 3.1l-3.1 -3.1zM321.0 277.6l3.1 3.1l-3.1 3.1l-3.1 -3.1zM322.0 277.9l3.1 3.1l-3.1 3.1l-3.1 -3.1zM323.0 276.4l3.1 3.1l-3.1 3.1l-3.1 -3.1zM324.0 278.8l3.1 3.1l-3.1 3.1l-3.1 -3.1zM325.0 280.3l3.1 3.1l-3.1 3.1l-3.1 -3.1zM326.0 279.1l3.1 3.1l-3.1 3.1l-3.1 -3.1zM327.0 282.1l3.1 3.1l-3.1 3.1l-3.1 -3.1zM328.0 282.2l3.1 3.1l-3.1 3.1l-3.1 -3.1zM329.0 284.6l3.1 3.1l-3.1 3.1l-3.1 -3.1zM330.0 285.9l3.1 3.1l-3.1 3.1l-3.1 -3.1zM331.0 285.8l3.1 3.1l-3.1 3.1l-3.1 -3.1zM332.0 289.6l3.1 3.1l-3.1 3.1l-3.1 -3.1zM333.0 286.6l3.1 3.1l-3.1 3.1l-3.1 -3.1zM334.0 284.3l3.1 3.1l-3.1 3.1l-3.1 -3.1zM335.0 283.2l3.1 3.1l-3.1 3.1l-3.1 -3.1zM336.0 280.1l3.1 3.1l-3.1 3.1l-3.1 -3.1zM337.0 278.3l3.1 3.1l-3.1 3.1l-3.1 -3.1zM338.0 279.2l3.1 3.1l-3.1 3.1l-3.1 -3.1z" fill="#000" stroke="none"/>
<path d="M270.0 273.0 L273.0 272.0 L276.0 279.0 L279.0 282.0 L285.0 279.0 L290.0 278.0 L293.6 280.0 L293.6 315.0 L291.5 311.0 L288.0 310.0 L284.0 311.5 L280.0 312.5 L276.5 313.0 L274.0 318.0 L270.0 318.0 z" fill="#000" stroke="#000" stroke-width="1.2" stroke-linejoin="round"/>
<path d="M277.6 297.0 L279.0 294.5 L279.6 296.0 L278.8 299.0 L279.0 303.5 L278.0 304.0 z" fill="#fff" stroke="none" opacity="0.8"/>
<path d="M287.2 296.0 L288.8 295.0 L289.0 299.5 L287.5 300.0 z" fill="#fff" stroke="none" opacity="0.8"/>
<path d="M282.6 303.0 L283.6 303.0 L283.6 308.0 L282.6 308.0 z" fill="#fff" stroke="none" opacity="0.8"/>
<path d="M290.6 298.0 L291.6 297.0 L291.6 309.0 L290.6 309.0 z" fill="#fff" stroke="none" opacity="0.8"/>
<path d="M285.2 300.0 L286.0 300.0 L286.0 306.0 L285.2 306.0 z" fill="#fff" stroke="none" opacity="0.8"/>
<path d="M293.4 312.4l3.0 3.0l-3.0 3.0l-3.0 -3.0z" fill="#000"/>
<path d="M272.0 313.5l2.5 2.5l-2.5 2.5l-2.5 -2.5z" fill="#000"/>
<path d="M280.0 309.3l2.2 2.2l-2.2 2.2l-2.2 -2.2z" fill="#000"/>
<path d="M285.0 307.8l2.2 2.2l-2.2 2.2l-2.2 -2.2z" fill="#000"/>
<path d="M272.5 311.9C273.1 311.2 274.9 308.1 276.2 307.7C277.5 307.4 279.0 309.8 280.4 309.8C281.8 309.8 283.1 307.7 284.5 307.7C285.9 307.7 287.3 308.6 288.7 309.8C290.1 311.0 291.6 315.5 292.8 315.0C294.0 314.5 294.6 308.6 295.9 306.7C297.3 304.8 299.4 303.9 301.1 303.6C302.8 303.2 304.6 303.9 306.3 304.6C308.0 305.3 309.8 307.4 311.5 307.7C313.2 308.1 315.1 307.2 316.7 306.7C318.2 306.2 319.3 304.3 320.8 304.6C322.4 305.0 324.3 307.7 326.0 308.8C327.7 309.8 329.6 311.2 331.2 310.8C332.8 310.5 334.0 307.0 335.4 306.7C336.7 306.3 337.9 307.7 339.5 308.8C341.1 309.8 343.0 313.1 344.7 312.9C346.4 312.7 348.3 309.4 349.9 307.7C351.4 306.0 352.6 303.0 354.0 302.5C355.4 302.0 357.0 304.0 358.2 304.6C359.4 305.2 359.9 306.6 361.3 306.1C362.7 305.5 364.7 302.8 366.5 301.5C368.2 300.2 369.9 298.7 371.7 298.4C373.4 298.0 375.1 299.8 376.8 299.4C378.6 299.1 380.3 297.3 382.0 296.3C383.8 295.3 385.5 293.9 387.2 293.2C388.9 292.5 390.5 293.0 392.4 292.2C394.3 291.3 396.7 289.0 398.6 288.0C400.5 287.0 402.2 286.7 403.8 285.9C405.5 285.1 407.8 283.7 408.6 283.2" fill="none" stroke="#000" stroke-width="2.6" stroke-linejoin="round" stroke-linecap="round"/>
<path d="M272.5 274.5C273.1 275.9 274.6 281.4 276.2 282.8C277.9 284.2 280.4 283.4 282.4 282.8C284.5 282.2 286.8 279.1 288.7 279.3C290.6 279.5 292.3 282.0 293.9 284.0C295.4 286.0 296.8 290.8 298.0 291.5C299.2 292.2 299.9 289.4 301.0 288.0C302.1 286.6 302.5 284.0 304.3 283.0C306.1 282.0 309.5 281.2 311.6 281.8C313.7 282.4 315.0 286.6 316.7 286.3C318.4 286.0 320.2 280.1 321.9 279.8C323.6 279.5 325.4 282.7 327.1 284.7C328.8 286.7 330.7 292.1 332.3 291.8C333.9 291.5 335.6 284.8 337.0 282.6C338.4 280.4 339.3 279.0 340.5 278.7C341.8 278.4 343.3 280.2 344.7 280.7C346.1 281.3 347.5 282.3 348.8 281.8C350.2 281.3 351.4 279.4 353.0 277.6C354.5 275.9 356.6 272.1 358.2 271.4C359.7 270.7 360.8 272.6 362.3 273.5C363.9 274.3 365.8 276.4 367.5 276.6C369.2 276.8 371.0 274.3 372.7 274.5C374.4 274.7 376.2 276.6 377.9 277.6C379.6 278.7 381.2 280.3 383.1 280.7C385.0 281.2 387.4 280.2 389.3 280.3C391.2 280.5 392.8 281.4 394.5 281.8C396.2 282.2 397.9 283.1 399.7 282.8C401.4 282.6 403.4 281.4 404.9 280.3C406.3 279.3 408.0 277.2 408.6 276.6" fill="none" stroke="#000" stroke-width="6.0" stroke-linejoin="round" stroke-linecap="round"/>
</g>
<g>
<path d="M497.7 250.6V373.3H632.9V250.6" fill="none" stroke="#7c7c7c" stroke-width="1.4"/>
<path d="M497.7 250.6h3M497.7 281.3h3M497.7 311.9h3M497.7 342.6h3M497.7 373.3h3M632.9 250.6h-3M632.9 275.1h-3M632.9 299.7h-3M632.9 324.2h-3M632.9 348.8h-3M632.9 373.3h-3M497.7 373.3v-3M542.8 373.3v-3M587.8 373.3v-3M632.9 373.3v-3" fill="none" stroke="#7c7c7c" stroke-width="1"/>
<text x="488.3" y="254.0" font-size="10.5" text-anchor="end">80</text>
<text x="488.3" y="284.7" font-size="10.5" text-anchor="end">75</text>
<text x="488.3" y="315.3" font-size="10.5" text-anchor="end">70</text>
<text x="488.3" y="346.0" font-size="10.5" text-anchor="end">65</text>
<text x="488.3" y="376.7" font-size="10.5" text-anchor="end">60</text>
<text x="642.6" y="254.1" font-size="10.5">14</text>
<text x="642.6" y="278.6" font-size="10.5">12</text>
<text x="642.6" y="303.2" font-size="10.5">10</text>
<text x="642.6" y="327.7" font-size="10.5">8</text>
<text x="642.6" y="352.3" font-size="10.5">6</text>
<text x="642.6" y="376.8" font-size="10.5">4</text>
<text x="496.7" y="389.6" font-size="10.5" text-anchor="middle">1.7</text>
<text x="541.8" y="389.6" font-size="10.5" text-anchor="middle">2.0</text>
<text x="586.8" y="389.6" font-size="10.5" text-anchor="middle">2.3</text>
<text x="631.9" y="389.6" font-size="10.5" text-anchor="middle">2.6</text>
<text x="461.0" y="252.6" font-size="18">f</text>
<text x="552.2" y="256.7" font-size="15">75<tspan dx="1.0" font-size="14" font-family="IPAGothic, 'Noto Serif CJK SC', serif">℃</tspan></text>
<text x="545.0" y="409.7" font-size="13" font-style="italic">f</text>
<text x="588.5" y="409.7" font-size="13" letter-spacing="0.4" text-anchor="end">(GHz)</text>
<path d="M528.8 426.2H548.2M576.7 426.2H596.0" stroke="#111" stroke-width="1.1" fill="none"/>
<path d="M538.5 423.3l2.9 2.9l-2.9 2.9l-2.9-2.9z" fill="#000"/>
<circle cx="586.4" cy="426.2" r="1.15" fill="#000"/>
<text x="550.3" y="429.9" font-size="14" stroke-width="0.4">ε'</text>
<text x="598.3" y="429.9" font-size="14" stroke-width="0.4">ε''</text>
<text transform="translate(468.6 315.4) rotate(-90)" font-size="15" stroke-width="0.4">ε'</text>
<text transform="translate(673.4 319.6) rotate(-90)" font-size="15" stroke-width="0.4">ε''</text>
<path d="M497.5 334.4L498.1 335.5L498.7 330.4L499.3 331.4L499.9 330.1L500.5 328.0L501.1 328.6L501.7 327.5L502.3 323.6L502.9 325.8" fill="none" stroke="#000" stroke-width="1.8" stroke-linejoin="round"/>
<path d="M497.8 336.6L498.6 332.9L499.4 331.7L500.1 330.1L500.9 327.6L501.7 326.0L502.5 324.6" fill="none" stroke="#000" stroke-width="2.4" stroke-linejoin="round"/>
<path d="M497.6 338.1L498.2 335.4L498.7 332.8L499.3 329.9L499.8 329.5L500.4 327.4L500.9 328.3L501.4 325.7L502.0 327.4L502.5 326.8" fill="none" stroke="#000" stroke-width="2.1" stroke-linejoin="round"/>
<path d="M503.0 326.5L503.6 323.4L504.2 322.1L504.8 323.0L505.4 324.5L506.0 323.1L506.6 323.9L507.2 321.7L507.8 321.0L508.4 323.4L509.0 318.8L509.6 318.5L510.2 320.2L510.8 319.9L511.4 318.3L512.0 318.5L512.6 317.4L513.2 318.2L513.8 318.9L514.4 318.2L515.0 316.8L515.6 315.5L516.2 317.8L516.8 314.7L517.4 315.3L518.0 316.3L518.6 314.9L519.2 312.7L519.8 313.9L520.4 312.4L521.0 313.4L521.6 311.0L522.2 309.7L522.8 311.4L523.4 308.1" fill="none" stroke="#000" stroke-width="1.8" stroke-linejoin="round"/>
<path d="M503.3 324.7L504.1 326.2L504.9 325.6L505.6 322.0L506.4 321.0L507.2 323.5L508.0 323.0L508.8 320.4L509.5 319.3L510.3 320.3L511.1 320.7L511.9 317.2L512.7 317.5L513.4 317.7L514.2 315.4L515.0 315.7L515.8 314.2L516.6 315.0L517.3 313.6L518.1 312.5L518.9 313.3L519.7 311.3L520.5 310.2L521.2 309.4L522.0 309.4L522.8 308.0L523.6 308.5" fill="none" stroke="#000" stroke-width="2.4" stroke-linejoin="round"/>
<path d="M503.1 324.9L503.7 323.6L504.2 322.9L504.8 323.0L505.3 324.7L505.9 321.7L506.4 322.5L506.9 323.7L507.5 323.4L508.0 321.3L508.6 322.7L509.1 321.3L509.6 318.9L510.2 317.8L510.7 317.7L511.3 320.2L511.8 317.8L512.3 319.5L512.9 319.7L513.4 319.0L514.0 316.5L514.5 314.0L515.0 314.9L515.6 314.3L516.1 316.1L516.6 316.0L517.2 316.7L517.7 315.4L518.3 316.3L518.8 314.4L519.3 313.0L519.9 314.0L520.4 310.7L521.0 312.4L521.5 311.5L522.0 311.5L522.6 306.9L523.1 306.8L523.7 309.7" fill="none" stroke="#000" stroke-width="2.1" stroke-linejoin="round"/>
<path d="M524.0 306.0L524.8 305.7L525.6 305.0L526.4 303.4L527.2 303.4L528.0 302.7L528.8 299.8L529.6 298.2L530.4 299.5L531.2 297.1L532.0 295.9L532.8 295.2L533.6 294.4L534.4 295.7L535.2 294.8L536.0 295.8L536.8 297.0L537.6 295.8L538.4 297.3L539.2 294.7L540.0 296.7L540.8 296.3L541.6 296.5L542.4 293.3L543.2 294.4L544.0 294.1L544.8 293.8L545.6 293.1L546.4 292.7L547.2 295.2L548.0 295.8L548.8 295.9L549.6 297.3L550.4 296.7L551.2 295.9L552.0 298.2L552.8 297.0L553.6 299.4L554.4 299.6L555.2 298.7L556.0 299.1L556.8 298.5L557.6 298.0L558.4 299.6L559.2 296.5L560.0 297.6" fill="none" stroke="#000" stroke-width="1.3" stroke-linejoin="round"/>
<path d="M524.3 305.8L525.3 304.7L526.4 303.5L527.4 301.7L528.5 301.7L529.5 298.9L530.5 298.1L531.6 296.3L532.6 295.5L533.7 296.2L534.7 295.1L535.7 295.5L536.8 296.1L537.8 295.0L538.9 295.1L539.9 296.4L540.9 296.5L542.0 293.9L543.0 294.3L544.1 295.0L545.1 294.1L546.1 294.2L547.2 294.1L548.2 295.8L549.3 294.7L550.3 296.4L551.3 298.0L552.4 297.7L553.4 298.4L554.5 299.1L555.5 299.6L556.5 300.7L557.6 300.0L558.6 297.3L559.7 296.4" fill="none" stroke="#000" stroke-width="1.9" stroke-linejoin="round"/>
<path d="M524.1 307.6L524.9 306.4L525.6 305.5L526.3 304.1L527.0 303.6L527.8 302.5L528.5 301.0L529.2 299.2L529.9 297.8L530.6 298.9L531.4 298.0L532.1 297.7L532.8 295.7L533.5 296.5L534.2 296.6L535.0 294.7L535.7 294.3L536.4 294.8L537.1 295.0L537.8 296.3L538.6 296.8L539.3 296.9L540.0 296.4L540.7 296.8L541.4 296.4L542.2 294.7L542.9 295.6L543.6 294.7L544.3 293.1L545.0 293.7L545.8 292.2L546.5 293.2L547.2 294.8L547.9 293.3L548.6 295.2L549.4 295.6L550.1 295.7L550.8 295.7L551.5 297.4L552.2 297.4L553.0 297.2L553.7 298.4L554.4 299.6L555.1 298.5L555.8 300.7L556.6 299.0L557.3 299.2L558.0 298.2L558.7 298.7L559.4 298.0" fill="none" stroke="#000" stroke-width="1.6" stroke-linejoin="round"/>
<path d="M497.9 322.0V338.0" stroke="#000" stroke-width="1.7" fill="none" stroke-linecap="round"/>
<path d="M499.6 322.0V333.0" stroke="#000" stroke-width="1.5" fill="none" stroke-linecap="round"/>
<path d="M501.8 318.0V328.0" stroke="#000" stroke-width="1.3" fill="none" stroke-linecap="round"/>
<path d="M507.5 310.0V323.0" stroke="#000" stroke-width="1.3" fill="none" stroke-linecap="round"/>
<path d="M511.0 314.0V322.0" stroke="#000" stroke-width="1.2" fill="none" stroke-linecap="round"/>
<path d="M514.5 311.0V319.0" stroke="#000" stroke-width="1.2" fill="none" stroke-linecap="round"/>
<path d="M518.4 305.0V315.0" stroke="#000" stroke-width="1.3" fill="none" stroke-linecap="round"/>
<path d="M546.0 290.0V296.0" stroke="#000" stroke-width="1.2" fill="none" stroke-linecap="round"/>
<path d="M550.0 291.0V298.0" stroke="#000" stroke-width="1.2" fill="none" stroke-linecap="round"/>
<path d="M556.0 294.0V302.0" stroke="#000" stroke-width="1.2" fill="none" stroke-linecap="round"/>
<path d="M579.0 289.0V294.5" stroke="#000" stroke-width="1.2" fill="none" stroke-linecap="round"/>
<path d="M518.0 272.9l3.1 3.1l-3.1 3.1l-3.1 -3.1zM519.1 272.6l3.1 3.1l-3.1 3.1l-3.1 -3.1zM520.2 273.5l3.1 3.1l-3.1 3.1l-3.1 -3.1zM521.3 276.0l3.1 3.1l-3.1 3.1l-3.1 -3.1zM522.4 276.6l3.1 3.1l-3.1 3.1l-3.1 -3.1zM523.5 278.3l3.1 3.1l-3.1 3.1l-3.1 -3.1zM524.6 278.8l3.1 3.1l-3.1 3.1l-3.1 -3.1zM525.7 276.8l3.1 3.1l-3.1 3.1l-3.1 -3.1zM526.8 276.4l3.1 3.1l-3.1 3.1l-3.1 -3.1zM527.9 276.8l3.1 3.1l-3.1 3.1l-3.1 -3.1zM529.0 274.3l3.1 3.1l-3.1 3.1l-3.1 -3.1zM530.1 274.2l3.1 3.1l-3.1 3.1l-3.1 -3.1zM531.2 271.5l3.1 3.1l-3.1 3.1l-3.1 -3.1zM532.3 270.0l3.1 3.1l-3.1 3.1l-3.1 -3.1zM533.4 271.2l3.1 3.1l-3.1 3.1l-3.1 -3.1zM534.5 271.0l3.1 3.1l-3.1 3.1l-3.1 -3.1zM535.6 271.9l3.1 3.1l-3.1 3.1l-3.1 -3.1zM536.7 272.6l3.1 3.1l-3.1 3.1l-3.1 -3.1zM537.8 271.8l3.1 3.1l-3.1 3.1l-3.1 -3.1zM538.9 273.6l3.1 3.1l-3.1 3.1l-3.1 -3.1zM540.0 274.1l3.1 3.1l-3.1 3.1l-3.1 -3.1zM541.1 276.0l3.1 3.1l-3.1 3.1l-3.1 -3.1zM542.2 276.0l3.1 3.1l-3.1 3.1l-3.1 -3.1zM543.3 275.4l3.1 3.1l-3.1 3.1l-3.1 -3.1zM544.4 274.5l3.1 3.1l-3.1 3.1l-3.1 -3.1zM545.5 272.9l3.1 3.1l-3.1 3.1l-3.1 -3.1zM546.6 272.9l3.1 3.1l-3.1 3.1l-3.1 -3.1zM547.7 273.2l3.1 3.1l-3.1 3.1l-3.1 -3.1zM548.8 273.6l3.1 3.1l-3.1 3.1l-3.1 -3.1zM549.9 274.3l3.1 3.1l-3.1 3.1l-3.1 -3.1zM551.0 275.9l3.1 3.1l-3.1 3.1l-3.1 -3.1zM552.1 277.7l3.1 3.1l-3.1 3.1l-3.1 -3.1zM553.2 277.6l3.1 3.1l-3.1 3.1l-3.1 -3.1zM554.3 279.2l3.1 3.1l-3.1 3.1l-3.1 -3.1zM555.4 280.1l3.1 3.1l-3.1 3.1l-3.1 -3.1zM556.5 281.8l3.1 3.1l-3.1 3.1l-3.1 -3.1zM557.6 282.9l3.1 3.1l-3.1 3.1l-3.1 -3.1zM558.7 283.4l3.1 3.1l-3.1 3.1l-3.1 -3.1zM559.8 284.3l3.1 3.1l-3.1 3.1l-3.1 -3.1zM560.9 281.4l3.1 3.1l-3.1 3.1l-3.1 -3.1z" fill="#000" stroke="none"/>
<path d="M495.0 272.0 L498.0 271.0 L502.0 277.0 L506.0 280.0 L511.0 276.0 L515.0 273.0 L518.5 275.0 L516.5 284.0 L513.5 289.0 L511.0 294.0 L508.5 299.0 L506.0 295.0 L503.5 296.5 L500.5 294.0 L497.5 292.5 L495.0 286.0 z" fill="#000" stroke="#000" stroke-width="1.2" stroke-linejoin="round"/>
<path d="M505.6 287.0 L506.6 286.0 L507.0 292.0 L506.0 293.0 z" fill="#fff" stroke="none" opacity="0.8"/>
<path d="M517.9 278.0V297.0" stroke="#000" stroke-width="1.3" fill="none"/>
<path d="M497.7 290.1l2.9 2.9l-2.9 2.9l-2.9 -2.9z" fill="#000"/>
<path d="M501.8 294.2l2.9 2.9l-2.9 2.9l-2.9 -2.9z" fill="#000"/>
<path d="M507.0 298.8l3.0 3.0l-3.0 3.0l-3.0 -3.0z" fill="#000"/>
<path d="M517.9 294.0l3.1 3.1l-3.1 3.1l-3.1 -3.1z" fill="#000"/>
<path d="M497.7 336.5C497.9 335.5 498.2 332.2 499.2 330.3C500.1 328.4 501.8 326.6 503.4 325.0C505.0 323.4 506.9 322.4 508.6 321.0C510.3 319.6 512.0 318.0 513.7 316.8C515.4 315.6 517.4 315.1 518.9 313.7C520.4 312.3 521.6 310.4 523.0 308.5C524.4 306.6 525.8 304.2 527.2 302.3C528.6 300.4 530.2 298.1 531.4 297.0C532.6 295.9 533.1 295.5 534.5 295.4C535.9 295.2 537.8 296.5 539.7 296.1C541.6 295.7 544.0 292.8 545.9 293.0C547.8 293.2 549.4 295.9 551.1 297.1C552.8 298.3 554.6 300.7 556.3 300.3C558.0 299.9 560.0 295.3 561.4 295.0C562.8 294.7 563.1 296.8 564.5 298.4C565.9 300.0 568.0 304.6 569.7 304.6C571.4 304.6 573.3 300.3 574.9 298.4C576.4 296.5 577.6 293.4 579.0 293.2C580.4 293.0 582.0 296.1 583.2 297.3C584.4 298.6 584.9 300.6 586.3 300.5C587.7 300.3 589.7 297.5 591.5 296.3C593.2 295.1 594.9 293.4 596.7 293.2C598.4 293.0 600.1 295.6 601.8 295.3C603.6 294.9 605.5 292.5 607.0 291.1C608.6 289.7 609.8 287.6 611.2 287.0C612.6 286.3 613.9 287.9 615.3 287.4C616.7 286.9 617.8 284.8 619.5 283.9C621.2 282.9 623.4 282.8 625.7 281.8C628.1 280.7 632.3 278.3 633.6 277.6" fill="none" stroke="#000" stroke-width="2.6" stroke-linejoin="round" stroke-linecap="round"/>
<path d="M497.5 274.1C498.1 275.0 499.7 278.8 501.2 279.7C502.7 280.6 504.7 280.4 506.4 279.7C508.1 279.0 510.0 276.5 511.6 275.6C513.2 274.6 514.4 273.9 515.7 274.1C517.1 274.3 518.5 275.3 519.9 276.6C521.3 277.9 522.7 281.4 524.0 281.8C525.4 282.1 526.8 280.0 528.2 278.7C529.6 277.4 531.0 274.7 532.3 274.1C533.7 273.5 534.9 274.2 536.5 274.9C538.0 275.7 540.0 278.6 541.7 278.7C543.4 278.8 545.3 275.6 546.9 275.6C548.4 275.6 549.5 277.1 551.0 278.7C552.6 280.2 554.8 283.3 556.2 284.9C557.6 286.5 558.1 288.9 559.3 288.0C560.5 287.1 562.1 281.8 563.5 279.7C564.8 277.6 566.2 275.6 567.6 275.6C569.0 275.6 570.6 278.7 571.8 279.7C573.0 280.7 573.7 282.3 574.9 281.8C576.1 281.3 577.6 278.5 579.0 276.6C580.4 274.7 581.8 270.9 583.2 270.4C584.6 269.9 585.8 272.3 587.3 273.5C588.9 274.7 590.8 277.3 592.5 277.6C594.2 278.0 596.0 275.4 597.7 275.6C599.4 275.7 601.2 277.8 602.9 278.7C604.6 279.5 606.2 280.5 608.1 280.7C610.0 281.0 612.4 280.1 614.3 280.3C616.2 280.6 617.8 281.9 619.5 282.4C621.2 282.9 622.9 283.5 624.7 283.2C626.4 283.0 628.4 281.7 629.9 280.7C631.3 279.8 633.0 278.2 633.6 277.6" fill="none" stroke="#000" stroke-width="6.2" stroke-linejoin="round" stroke-linecap="round"/>
</g>
</svg>
</body></html>
